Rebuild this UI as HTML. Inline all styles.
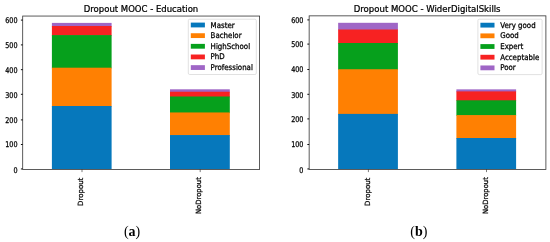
<!DOCTYPE html>
<html lang="en">
<head>
<meta charset="utf-8">
<title>Dropout MOOC charts</title>
<style>
html,body{margin:0;padding:0;background:#fff;}
body{width:550px;height:242px;overflow:hidden;}
svg{display:block;filter:blur(0.4px);}
.t{font-family:"DejaVu Sans","Liberation Sans",sans-serif;font-size:7.05px;fill:#000;stroke:#000;stroke-width:0.24px;}
.ti{font-family:"DejaVu Sans","Liberation Sans",sans-serif;font-size:8.5px;fill:#000;stroke:#000;stroke-width:0.24px;}
.cap{font-family:"Liberation Serif","DejaVu Serif",serif;font-size:14px;fill:#000;}
.sp{fill:none;stroke:#333;stroke-width:0.8px;}
.tk{stroke:#000;stroke-width:0.95px;}
.xk{stroke:#222;stroke-width:0.6px;}
.lg{fill:#fff;fill-opacity:0.8;stroke:#d4d4d4;stroke-width:0.7px;}
</style>
</head>
<body>
<svg width="550" height="242" viewBox="0 0 550 242">
<rect width="550" height="242" fill="#fff"/>
<rect x="51.90" y="22.90" width="59.70" height="3.80" fill="#9f66c6"/>
<rect x="51.90" y="26.00" width="59.70" height="9.80" fill="#f72222"/>
<rect x="51.90" y="35.10" width="59.70" height="33.30" fill="#06a01c"/>
<rect x="51.90" y="67.70" width="59.70" height="39.00" fill="#ff8002"/>
<rect x="51.90" y="106.00" width="59.70" height="63.00" fill="#0678bc"/>
<rect x="170.00" y="89.30" width="59.80" height="3.15" fill="#9f66c6"/>
<rect x="170.00" y="91.75" width="59.80" height="5.45" fill="#f72222"/>
<rect x="170.00" y="96.50" width="59.80" height="16.65" fill="#06a01c"/>
<rect x="170.00" y="112.45" width="59.80" height="23.30" fill="#ff8002"/>
<rect x="170.00" y="135.05" width="59.80" height="33.95" fill="#0678bc"/>
<rect class="sp" x="22.70" y="16.05" width="236.90" height="153.35"/>
<line class="tk" x1="20.90" x2="22.70" y1="168.95" y2="168.95"/>
<text class="t" transform="translate(17.50,172.80) scale(0.915,1.12)" text-anchor="end">0</text>
<line class="tk" x1="20.90" x2="22.70" y1="144.50" y2="144.50"/>
<text class="t" transform="translate(17.50,147.15) scale(0.915,1.12)" text-anchor="end">100</text>
<line class="tk" x1="20.90" x2="22.70" y1="119.90" y2="119.90"/>
<text class="t" transform="translate(17.50,122.65) scale(0.915,1.12)" text-anchor="end">200</text>
<line class="tk" x1="20.90" x2="22.70" y1="94.30" y2="94.30"/>
<text class="t" transform="translate(17.50,97.85) scale(0.915,1.12)" text-anchor="end">300</text>
<line class="tk" x1="20.90" x2="22.70" y1="69.67" y2="69.67"/>
<text class="t" transform="translate(17.50,73.15) scale(0.915,1.12)" text-anchor="end">400</text>
<line class="tk" x1="20.90" x2="22.70" y1="44.90" y2="44.90"/>
<text class="t" transform="translate(17.50,47.65) scale(0.915,1.12)" text-anchor="end">500</text>
<line class="tk" x1="20.90" x2="22.70" y1="20.10" y2="20.10"/>
<text class="t" transform="translate(17.50,23.10) scale(0.915,1.12)" text-anchor="end">600</text>
<line class="xk" x1="82.00" x2="82.00" y1="169.40" y2="172.10"/>
<text class="t" transform="translate(82.75,177.70) rotate(-90) scale(0.99,1.02)" text-anchor="end">Dropout</text>
<line class="xk" x1="200.20" x2="200.20" y1="169.40" y2="172.10"/>
<text class="t" transform="translate(200.95,177.10) rotate(-90) scale(0.972,1.02)" text-anchor="end">NoDropout</text>
<text class="ti" style="font-size:8.5px" x="141.00" y="11.5" text-anchor="middle">Dropout MOOC - Education</text>
<rect class="lg" x="188.30" y="19.20" width="68.00" height="55.30" rx="1.4"/>
<rect x="190.80" y="22.60" width="14.1" height="4.8" fill="#0678bc"/>
<text class="t" transform="translate(210.60,27.50) scale(1,1.12)">Master</text>
<rect x="190.80" y="33.24" width="14.1" height="4.8" fill="#ff8002"/>
<text class="t" transform="translate(210.60,38.14) scale(1,1.12)">Bachelor</text>
<rect x="190.80" y="43.88" width="14.1" height="4.8" fill="#06a01c"/>
<text class="t" transform="translate(210.60,48.78) scale(1,1.12)">HighSchool</text>
<rect x="190.80" y="54.52" width="14.1" height="4.8" fill="#f72222"/>
<text class="t" transform="translate(210.60,59.42) scale(1,1.12)">PhD</text>
<rect x="190.80" y="65.16" width="14.1" height="4.8" fill="#9f66c6"/>
<text class="t" transform="translate(210.60,70.06) scale(1,1.12)">Professional</text>
<text class="cap" x="132.10" y="236" text-anchor="middle">(<tspan font-weight="bold">a</tspan>)</text>
<rect x="338.15" y="22.80" width="59.75" height="7.40" fill="#9f66c6"/>
<rect x="338.15" y="29.50" width="59.75" height="14.20" fill="#f72222"/>
<rect x="338.15" y="43.00" width="59.75" height="26.95" fill="#06a01c"/>
<rect x="338.15" y="69.25" width="59.75" height="45.35" fill="#ff8002"/>
<rect x="338.15" y="113.90" width="59.75" height="55.10" fill="#0678bc"/>
<rect x="456.40" y="89.35" width="59.70" height="2.75" fill="#9f66c6"/>
<rect x="456.40" y="91.40" width="59.70" height="9.60" fill="#f72222"/>
<rect x="456.40" y="100.30" width="59.70" height="15.50" fill="#06a01c"/>
<rect x="456.40" y="115.10" width="59.70" height="23.60" fill="#ff8002"/>
<rect x="456.40" y="138.00" width="59.70" height="31.00" fill="#0678bc"/>
<rect class="sp" x="309.15" y="15.85" width="236.75" height="153.55"/>
<line class="tk" x1="307.35" x2="309.15" y1="168.93" y2="168.93"/>
<text class="t" transform="translate(303.45,172.75) scale(0.915,1.12)" text-anchor="end">0</text>
<line class="tk" x1="307.35" x2="309.15" y1="144.50" y2="144.50"/>
<text class="t" transform="translate(303.45,146.95) scale(0.915,1.12)" text-anchor="end">100</text>
<line class="tk" x1="307.35" x2="309.15" y1="118.90" y2="118.90"/>
<text class="t" transform="translate(303.45,122.45) scale(0.915,1.12)" text-anchor="end">200</text>
<line class="tk" x1="307.35" x2="309.15" y1="94.30" y2="94.30"/>
<text class="t" transform="translate(303.45,97.65) scale(0.915,1.12)" text-anchor="end">300</text>
<line class="tk" x1="307.35" x2="309.15" y1="69.50" y2="69.50"/>
<text class="t" transform="translate(303.45,72.35) scale(0.915,1.12)" text-anchor="end">400</text>
<line class="tk" x1="307.35" x2="309.15" y1="44.10" y2="44.10"/>
<text class="t" transform="translate(303.45,47.45) scale(0.915,1.12)" text-anchor="end">500</text>
<line class="tk" x1="307.35" x2="309.15" y1="19.90" y2="19.90"/>
<text class="t" transform="translate(303.45,22.60) scale(0.915,1.12)" text-anchor="end">600</text>
<line class="xk" x1="368.40" x2="368.40" y1="169.40" y2="172.10"/>
<text class="t" transform="translate(369.60,177.70) rotate(-90) scale(0.99,1.02)" text-anchor="end">Dropout</text>
<line class="xk" x1="486.50" x2="486.50" y1="169.40" y2="172.10"/>
<text class="t" transform="translate(487.70,177.10) rotate(-90) scale(0.972,1.02)" text-anchor="end">NoDropout</text>
<text class="ti" style="font-size:8.54px" x="427.15" y="11.5" text-anchor="middle">Dropout MOOC - WiderDigitalSkills</text>
<rect class="lg" x="477.90" y="19.20" width="64.20" height="55.40" rx="1.4"/>
<rect x="480.40" y="22.75" width="14.1" height="4.8" fill="#0678bc"/>
<text class="t" transform="translate(500.20,27.65) scale(1,1.12)">Very good</text>
<rect x="480.40" y="33.43" width="14.1" height="4.8" fill="#ff8002"/>
<text class="t" transform="translate(500.20,38.33) scale(1,1.12)">Good</text>
<rect x="480.40" y="44.11" width="14.1" height="4.8" fill="#06a01c"/>
<text class="t" transform="translate(500.20,49.01) scale(1,1.12)">Expert</text>
<rect x="480.40" y="54.79" width="14.1" height="4.8" fill="#f72222"/>
<text class="t" transform="translate(500.20,59.69) scale(1,1.12)">Acceptable</text>
<rect x="480.40" y="65.47" width="14.1" height="4.8" fill="#9f66c6"/>
<text class="t" transform="translate(500.20,70.37) scale(1,1.12)">Poor</text>
<text class="cap" x="418.80" y="236" text-anchor="middle">(<tspan font-weight="bold">b</tspan>)</text>
</svg>
</body>
</html>
